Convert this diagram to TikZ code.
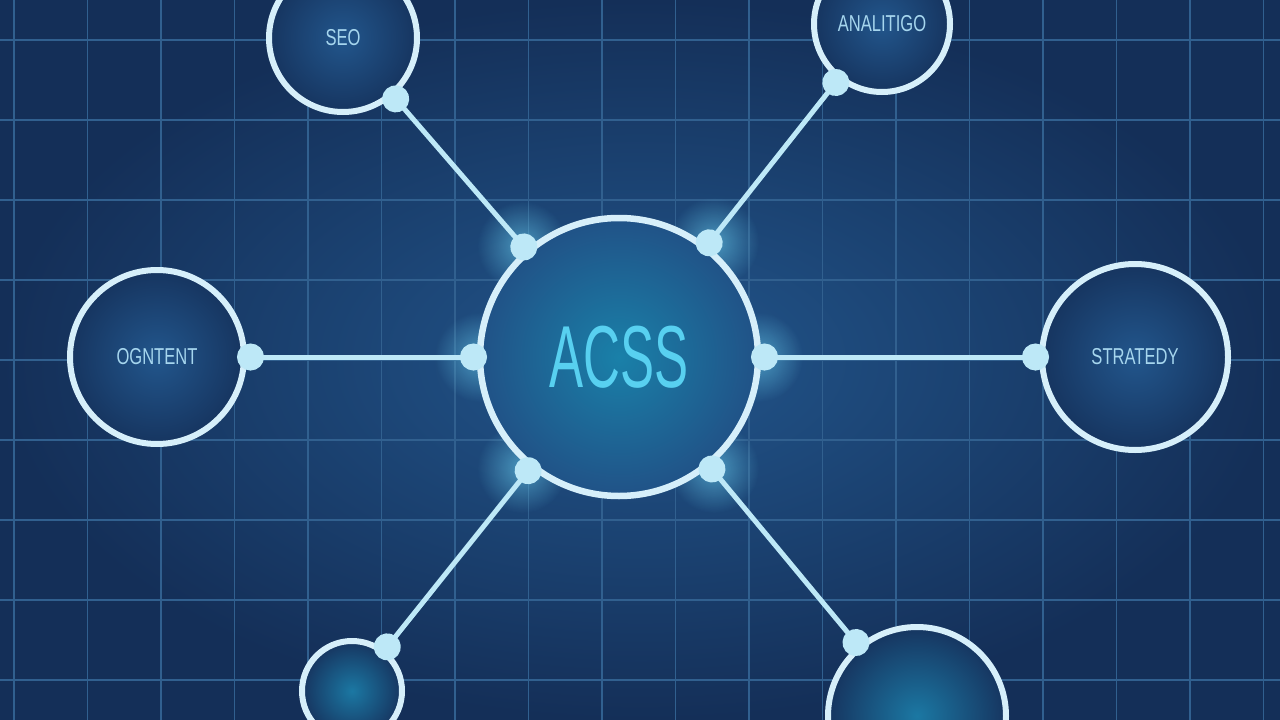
\documentclass[tikz,border=0pt]{standalone}
\usepackage{fontspec}
\setmainfont{Liberation Sans}
\newfontfamily\labelfont[FakeStretch=0.72]{Liberation Sans}
\newfontfamily\hubfont[FakeStretch=0.58]{Liberation Sans}
\usetikzlibrary{arrows.meta,fadings}

\definecolor{bgdark}{HTML}{142F58}
\definecolor{bglight}{HTML}{22568C}
\definecolor{gridline}{HTML}{31608F}
\definecolor{ringcol}{HTML}{D6EFFA}
\definecolor{knobcol}{HTML}{BDE8F7}
\definecolor{labelcol}{HTML}{A6D6EE}
\definecolor{hubtext}{HTML}{58D0F0}
\definecolor{glowcol}{HTML}{6FD8F7}

\tikzfading[name=softglow, inner color=transparent!0, outer color=transparent!100]

\tikzset{
  topic/.style={circle, draw=ringcol, line width=6pt, outer sep=0pt,
    inner color=#1, outer color=bgdark!85!bglight,
    text=labelcol, font=\labelfont\fontsize{23}{23}\selectfont},
  topic/.default=bglight,
  hubnode/.style={circle, draw=ringcol, line width=6.5pt, outer sep=0pt,
    inner color=bglight!75!cyan, outer color=bglight!90!bgdark,
    text=hubtext, font=\hubfont\fontsize{88}{88}\selectfont},
  link/.style={draw=knobcol, line width=5pt,
    {Circle[length=27pt,width=27pt,fill=knobcol]}-{Circle[length=27pt,width=27pt,fill=knobcol]},
    shorten <=-7pt, shorten >=-7pt},
  glow/.style={fill=glowcol, opacity=0.55, path fading=softglow},
}

\begin{document}
\begin{tikzpicture}[x=1pt,y=-1pt]
  \useasboundingbox (0,0) rectangle (1280,720);
  % background and grid
  \shade[inner color=bglight, outer color=bgdark] (0,0) rectangle (1280,720);
  \foreach \i in {0,...,17}
    \draw[gridline, line width=1.5pt] (14+73.5*\i,0) -- (14+73.5*\i,720);
  \foreach \j in {0,...,8}
    \draw[gridline, line width=1.5pt] (0,40+80*\j) -- (1280,40+80*\j);

  % glow behind the hub knobs
  \foreach \p in {(522,246),(714,242),(480,357),(758,357),(522,468),(714,468)}
    \fill[glow] \p circle (45pt);

  % nodes
  \node[hubnode, minimum size=278pt] (hub) at (619,357) {ACSS};
  \node[topic, minimum size=148pt] (seo) at (343,38) {SEO};
  \node[topic, minimum size=136pt] (ana) at (882,24) {ANALITIGO};
  \node[topic, minimum size=174pt] (con) at (157,357) {OGNTENT};
  \node[topic, minimum size=186pt] (str) at (1135,357) {STRATEDY};
  \node[topic=bglight!80!cyan, minimum size=100pt] (low) at (352,691) {};
  \node[topic=bglight!80!cyan, minimum size=178pt] (pie) at (917,716) {};

  % connectors
  \draw[link] (seo) -- (hub);
  \draw[link] (ana) -- (hub);
  \draw[link] (con) -- (hub);
  \draw[link] (str) -- (hub);
  \draw[link] (low) -- (hub);
  \draw[link] (pie) -- (hub);
\end{tikzpicture}
\end{document}
